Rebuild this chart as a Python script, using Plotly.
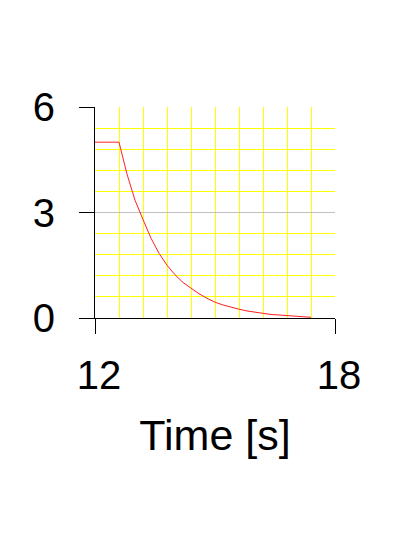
import plotly.graph_objects as go

time_s = [12.0, 12.6, 12.8, 13.0, 13.2, 13.4, 13.6, 13.8, 14.0, 14.2, 14.4, 14.6,
          14.8, 15.0, 15.2, 15.4, 15.6, 15.8, 16.0, 16.2, 16.4, 16.6, 16.8, 17.0,
          17.2, 17.4]
value = [5.0, 5.0, 4.09, 3.35, 2.8, 2.27, 1.84, 1.5, 1.23, 1.01, 0.85, 0.69,
         0.56, 0.45, 0.37, 0.3, 0.25, 0.2, 0.16, 0.13, 0.1, 0.085, 0.07, 0.05,
         0.04, 0.02]
x_ticks = [12, 18]
y_ticks = [0, 3, 6]

fig = go.Figure()
fig.add_trace(go.Scatter(x=time_s, y=value, mode="lines",
                         line=dict(color="#ff2020", width=1), showlegend=False))

tick_font = dict(family="Liberation Sans, Arial, sans-serif", size=40, color="black")
title_font = dict(family="Liberation Sans, Arial, sans-serif", size=43, color="black")

fig.update_layout(
    width=406, height=523,
    margin=dict(l=87, r=79, t=99, b=213),
    paper_bgcolor="white", plot_bgcolor="white",
    font=tick_font,
    xaxis=dict(range=[12, 18], tickvals=x_ticks, ticktext=[str(v) for v in x_ticks],
               tickfont=tick_font,
               showgrid=True, gridcolor="#c0c0c0", gridwidth=1, automargin=False,
               zeroline=False, showline=True, linecolor="black", linewidth=1,
               ticks="outside", ticklen=15, tickcolor="black",
               ticklabelstandoff=7, ticklabelshift=4,
               minor=dict(dtick=0.6, tick0=12, showgrid=True, gridcolor="#ffff00",
                          gridwidth=1, ticks=""),
               title=dict(text="Time [s]", font=title_font, standoff=23)),
    yaxis=dict(range=[0, 6], tickvals=y_ticks, ticktext=[str(v) for v in y_ticks],
               tickfont=tick_font,
               showgrid=True, gridcolor="#c0c0c0", gridwidth=1, automargin=False,
               zeroline=False, showline=True, linecolor="black", linewidth=1,
               ticks="outside", ticklen=15, tickcolor="black",
               ticklabelstandoff=16,
               minor=dict(dtick=0.6, tick0=0, showgrid=True, gridcolor="#ffff00",
                          gridwidth=1, ticks="")),
)

fig.write_html("out.html")
